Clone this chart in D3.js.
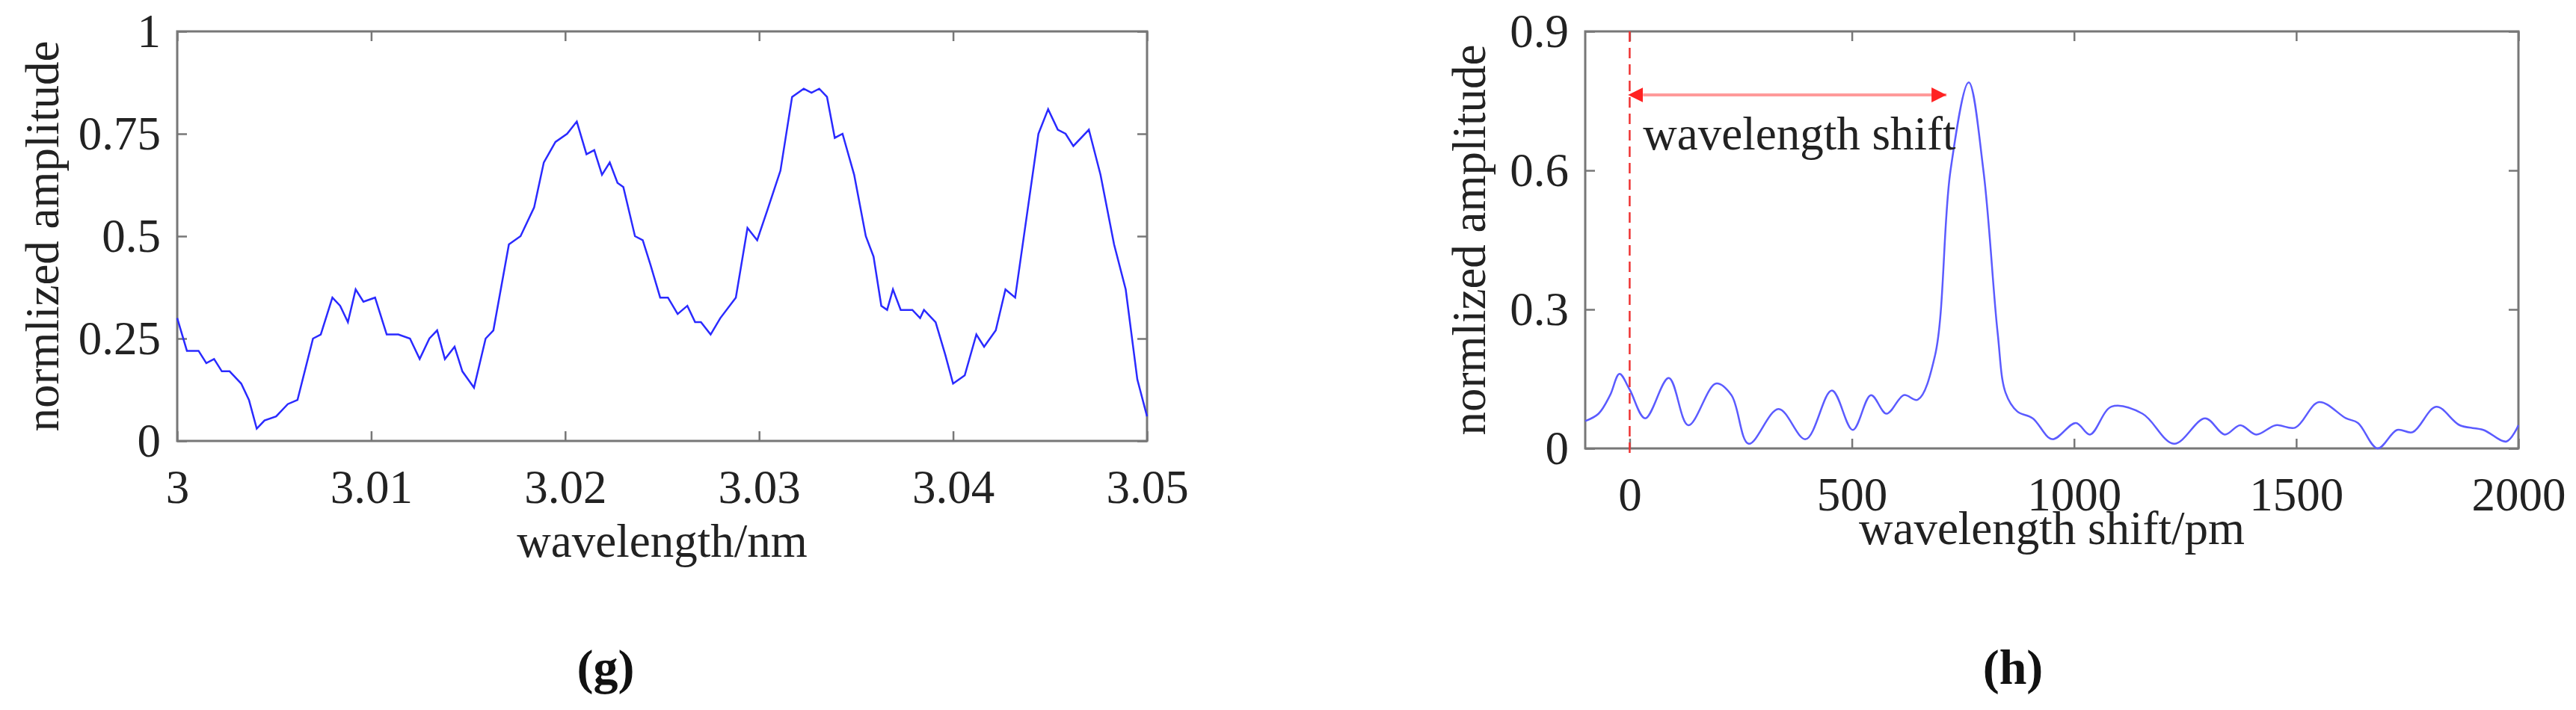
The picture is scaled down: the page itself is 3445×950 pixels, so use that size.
<!DOCTYPE html>
<html lang="en">
<head>
<meta charset="UTF-8">
<title>spectrum</title>
<script src="https://cdn.jsdelivr.net/npm/d3@7"></script>
<style>
	html, body{ margin: 0; background: #fff; }
	svg{ display: block; }
	.tick text{ font-family: "Liberation Serif", serif; }
</style>
</head>
<body>
<div class="chart"></div>
<script>
	// panel (g): normalized amplitude vs wavelength
	var wlNm = [3.0000,3.0005,3.0011,3.0015,3.0019,3.0023,3.0027,3.0033,3.0037,3.0041,3.0045,3.0051,3.0057,3.0062,3.0070,3.0074,3.0080,3.0084,3.0088,3.0092,3.0096,3.0102,3.0108,3.0114,3.0120,3.0125,3.0130,3.0134,3.0138,3.0143,3.0147,3.0153,3.0159,3.0163,3.0171,3.0177,3.0184,3.0189,3.0195,3.0201,3.0206,3.0211,3.0215,3.0219,3.0223,3.0227,3.0230,3.0236,3.0240,3.0244,3.0249,3.0253,3.0258,3.0263,3.0267,3.0270,3.0275,3.0280,3.0288,3.0294,3.0299,3.0304,3.0311,3.0317,3.0323,3.0327,3.0331,3.0335,3.0339,3.0343,3.0349,3.0355,3.0359,3.0363,3.0366,3.0369,3.0373,3.0379,3.0383,3.0385,3.0391,3.0396,3.0400,3.0406,3.0412,3.0416,3.0422,3.0427,3.0432,3.0438,3.0444,3.0449,3.0454,3.0458,3.0462,3.0470,3.0476,3.0483,3.0489,3.0495,3.0500];
	var ampG = [0.30,0.22,0.22,0.19,0.20,0.17,0.17,0.14,0.10,0.03,0.05,0.06,0.09,0.10,0.25,0.26,0.35,0.33,0.29,0.37,0.34,0.35,0.26,0.26,0.25,0.20,0.25,0.27,0.20,0.23,0.17,0.13,0.25,0.27,0.48,0.50,0.57,0.68,0.73,0.75,0.78,0.70,0.71,0.65,0.68,0.63,0.62,0.50,0.49,0.43,0.35,0.35,0.31,0.33,0.29,0.29,0.26,0.30,0.35,0.52,0.49,0.56,0.66,0.84,0.86,0.85,0.86,0.84,0.74,0.75,0.65,0.50,0.45,0.33,0.32,0.37,0.32,0.32,0.30,0.32,0.29,0.21,0.14,0.16,0.26,0.23,0.27,0.37,0.35,0.55,0.75,0.81,0.76,0.75,0.72,0.76,0.65,0.48,0.37,0.15,0.06];
	var ticksG = [3, 3.01, 3.02, 3.03, 3.04, 3.05];
	var yTicksG = [0, 0.25, 0.5, 0.75, 1];

	// panel (h): normalized amplitude vs wavelength shift
	var shiftPm = [-100,-70,-44,-23,0,35,88,132,194,229,268,335,396,455,502,543,578,617,648,687,722,763,796,828,846,872,907,951,1004,1036,1084,1154,1225,1295,1339,1374,1410,1454,1498,1551,1612,1639,1683,1727,1762,1815,1868,1921,1973,2000];
	var ampH = [0.059,0.075,0.115,0.161,0.127,0.065,0.152,0.05,0.14,0.115,0.01,0.085,0.02,0.125,0.04,0.115,0.075,0.115,0.105,0.2,0.6,0.79,0.6,0.25,0.12,0.08,0.065,0.02,0.055,0.03,0.09,0.075,0.01,0.065,0.03,0.05,0.03,0.05,0.045,0.1,0.065,0.055,0.0,0.04,0.035,0.09,0.05,0.04,0.015,0.05];
	var ticksH = [0, 500, 1000, 1500, 2000];
	var yTicksH = [0, 0.3, 0.6, 0.9];
	var shiftArrow = [30, 713];

	var width = 3445, height = 950;
	var svg = d3.select('.chart').append('svg')
		.attr('width', width).attr('height', height);

	function panel(o){
		var x = d3.scaleLinear().domain(o.xd).range([o.left, o.right]);
		var y = d3.scaleLinear().domain(o.yd).range([o.bottom, o.top]);
		var g = svg.append('g');
		var tl = 13;

		// mirrored inner ticks
		g.append('g').attr('transform', 'translate(0,' + o.bottom + ')')
			.call(d3.axisBottom(x).tickValues(o.xt).tickSize(-tl).tickPadding(38).tickFormat(d3.format('')))
			.call(function(a){ a.select('.domain').remove(); });
		g.append('g').attr('transform', 'translate(0,' + o.top + ')')
			.call(d3.axisTop(x).tickValues(o.xt).tickSize(-tl).tickFormat(''))
			.call(function(a){ a.select('.domain').remove(); });
		g.append('g').attr('transform', 'translate(' + o.left + ',0)')
			.call(d3.axisLeft(y).tickValues(o.yt).tickSize(-tl).tickPadding(22).tickFormat(d3.format('')))
			.call(function(a){ a.select('.domain').remove(); });
		g.append('g').attr('transform', 'translate(' + o.right + ',0)')
			.call(d3.axisRight(y).tickValues(o.yt).tickSize(-tl).tickFormat(''))
			.call(function(a){ a.select('.domain').remove(); });
		g.selectAll('.tick line').attr('stroke', '#777').attr('stroke-width', 2.5);
		g.selectAll('.tick text').attr('font-size', 63).attr('fill', '#222');

		g.append('rect').attr('x', o.left).attr('y', o.top)
			.attr('width', o.right - o.left).attr('height', o.bottom - o.top)
			.attr('fill', 'none').attr('stroke', '#777').attr('stroke-width', 3);

		g.append('path')
			.attr('d', d3.line().x(function(d){ return x(d[0]); }).y(function(d){ return y(d[1]); })
				.curve(o.curve)(d3.zip(o.xs, o.ys)))
			.attr('fill', 'none').attr('stroke', o.color).attr('stroke-width', 2.5);

		g.append('text').attr('x', (o.left + o.right) / 2).attr('y', o.bottom + o.xlo)
			.attr('text-anchor', 'middle').attr('font-family', 'Liberation Serif, serif')
			.attr('font-size', 63).attr('fill', '#222').text(o.xlabel);
		g.append('text').attr('transform', 'translate(' + o.ylx + ',' + ((o.top + o.bottom) / 2) + ') rotate(-90)')
			.attr('text-anchor', 'middle').attr('dominant-baseline', 'central')
			.attr('font-family', 'Liberation Serif, serif')
			.attr('font-size', 63).attr('fill', '#222').text('normlized amplitude');
		g.append('text').attr('x', o.capx).attr('y', 915)
			.attr('text-anchor', 'middle').attr('font-family', 'Liberation Serif, serif')
			.attr('font-weight', 'bold').attr('font-size', 66).attr('fill', '#111').text(o.caption);
		return {x: x, y: y, g: g};
	}

	panel({xd: [3, 3.05], yd: [0, 1], left: 237, right: 1534, top: 42, bottom: 590,
		xt: ticksG, yt: yTicksG, xs: wlNm, ys: ampG, color: '#2a2aff', curve: d3.curveLinear,
		xlabel: 'wavelength/nm', xlo: 155, ylx: 57, caption: '(g)', capx: 810});

	var h = panel({xd: [-100, 2000], yd: [0, 0.9], left: 2120, right: 3368, top: 42, bottom: 600,
		xt: ticksH, yt: yTicksH, xs: shiftPm, ys: ampH, color: '#5b5bff', curve: d3.curveCatmullRom.alpha(0.5),
		xlabel: 'wavelength shift/pm', xlo: 128, ylx: 1965, caption: '(h)', capx: 2692});

	// dashed zero line and shift arrow
	h.g.append('line').attr('x1', h.x(0)).attr('x2', h.x(0)).attr('y1', 42).attr('y2', 610)
		.attr('stroke', '#e33').attr('stroke-width', 2.5).attr('stroke-dasharray', '14,8');
	var defs = svg.append('defs');
	['s', 'e'].forEach(function(k){
		defs.append('marker').attr('id', 'ar' + k).attr('viewBox', '0 0 10 10')
			.attr('refX', k == 's' ? 0 : 10).attr('refY', 5).attr('markerWidth', 5).attr('markerHeight', 5)
			.attr('orient', 'auto-start-reverse').attr('markerUnits', 'strokeWidth')
			.append('path').attr('d', 'M0,0L10,5L0,10z').attr('fill', '#f22');
	});
	h.g.append('line').attr('x1', h.x(shiftArrow[0])).attr('x2', h.x(shiftArrow[1]))
		.attr('y1', 127).attr('y2', 127)
		.attr('stroke', '#ff9a9a').attr('stroke-width', 4)
		.attr('marker-start', 'url(#ars)').attr('marker-end', 'url(#are)');
	h.g.append('text').attr('x', h.x(shiftArrow[0])).attr('y', 200)
		.attr('font-family', 'Liberation Serif, serif').attr('font-size', 63).attr('fill', '#222')
		.text('wavelength shift');
</script>
</body>
</html>
